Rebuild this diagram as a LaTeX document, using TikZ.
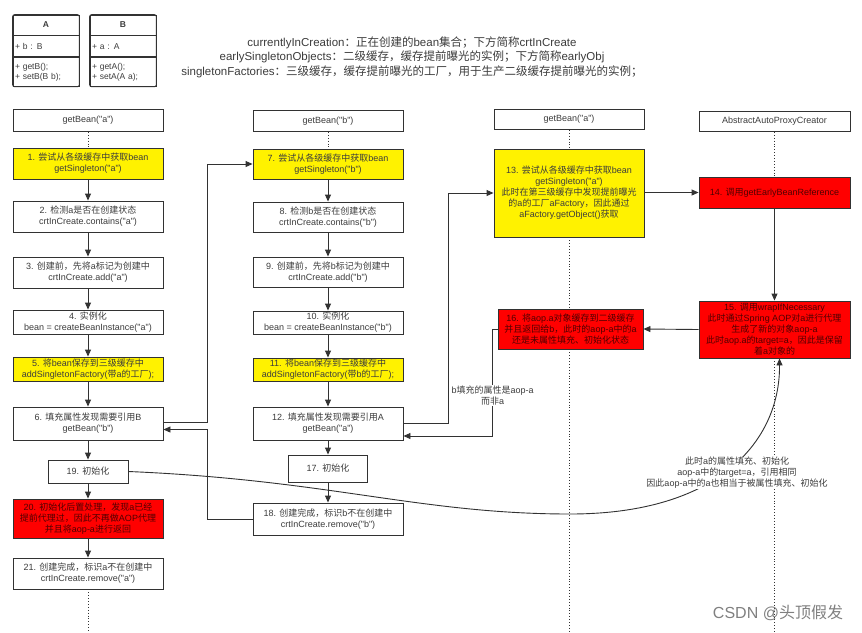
\documentclass[tikz,border=0pt]{standalone}
\usepackage{fontspec}
\newfontfamily\latinfont{Liberation Sans}
\newfontfamily\cjkfont{Noto Sans CJK SC}
\newcommand{\zh}[1]{{\cjkfont #1}}
\usetikzlibrary{arrows.meta}
\definecolor{txt}{RGB}{60,60,60}
\definecolor{rtxt}{RGB}{80,0,0}
\definecolor{edge}{RGB}{50,50,50}
\tikzset{
  box/.style={draw=edge, line width=0.9pt, fill=white, minimum width=150pt, align=center, inner sep=0.5pt,
    font=\fontsize{9}{11}\selectfont\latinfont, text=txt},
  ybox/.style={box, fill=yellow},
  rbox/.style={box, fill=red, text=rtxt},
  ml/.style={execute at begin node={\rule{0pt}{12.5pt}}},
  arr/.style={draw=edge, line width=0.9pt, -{Triangle[length=7pt,width=6pt]}},
  dots/.style={draw=edge, line width=0.9pt, dotted},
  uml/.style={draw=edge, line width=0.7pt, minimum width=66pt, inner sep=1pt, font=\fontsize{8.5}{10}\selectfont\latinfont, text=txt},
  lbl/.style={font=\fontsize{9}{11}\selectfont\latinfont, text=txt, align=center, inner sep=1pt},
}
\begin{document}
\begin{tikzpicture}[x=1pt,y=-1pt]
\useasboundingbox[fill=white] (0,0) rectangle (862,632);

% UML classes
\node[uml, minimum height=20pt, font=\fontsize{8.5}{10}\selectfont\latinfont\bfseries] (ua) at (46,25) {A};
\node[uml, minimum height=21pt, anchor=north, align=left, text width=62pt] (uaa) at (ua.south) {+ b : B};
\node[uml, minimum height=29pt, anchor=north, align=left, text width=62pt] (uam) at (uaa.south) {+ getB();\\+ setB(B b);};
\draw[edge, line width=0.9pt, rounded corners=2pt] (ua.north west) rectangle (uam.south east);
\node[uml, minimum height=20pt, font=\fontsize{8.5}{10}\selectfont\latinfont\bfseries] (ub) at (123,25) {B};
\node[uml, minimum height=21pt, anchor=north, align=left, text width=62pt] (uba) at (ub.south) {+ a : A};
\node[uml, minimum height=29pt, anchor=north, align=left, text width=62pt] (ubm) at (uba.south) {+ getA();\\+ setA(A a);};
\draw[edge, line width=0.9pt, rounded corners=2pt] (ub.north west) rectangle (ubm.south east);

% legend
\node[lbl, font=\fontsize{11.5}{14.5}\selectfont\latinfont] (legend) at (412,57)
 {currentlyInCreation\zh{：正在创建的}bean\zh{集合；下方简称}crtInCreate\\
  earlySingletonObjects\zh{：二级缓存，缓存提前曝光的实例；下方简称}earlyObj\\
  singletonFactories\zh{：三级缓存，缓存提前曝光的工厂，用于生产二级缓存提前曝光的实例；}};

% column 1
\node[box, minimum height=22pt] (ha) at (88,120.5) {getBean("a")};
\node[ybox, ml, minimum height=31pt] (n1) at (88,163.5) {1. \zh{尝试从各级缓存中获取}bean\\getSingleton("a")};
\node[box, ml, minimum height=31pt] (n2) at (88,216.5) {2. \zh{检测}a\zh{是否在创建状态}\\crtInCreate.contains("a")};
\node[box, ml, minimum height=31pt] (n3) at (88,272.5) {3. \zh{创建前，先将}a\zh{标记为创建中}\\crtInCreate.add("a")};
\node[box, ml, minimum height=24pt] (n4) at (88,322) {4. \zh{实例化}\\bean = createBeanInstance("a")};
\node[ybox, ml, minimum height=24pt] (n5) at (88,369) {5. \zh{将}bean\zh{保存到三级缓存中}\\addSingletonFactory(\zh{带}a\zh{的工厂});};
\node[box, ml, minimum height=33pt] (n6) at (88,423.5) {6. \zh{填充属性发现需要引用}B\\getBean("b")};
\node[box, minimum height=23pt, minimum width=80pt] (n19) at (88,471.5) {19. \zh{初始化}};
\node[rbox, ml, minimum height=39pt] (n20) at (88,518.5) {20. \zh{初始化后置处理，发现}a\zh{已经}\\\zh{提前代理过，因此不再做}AOP\zh{代理}\\\zh{并且将}aop-a\zh{进行返回}};
\node[box, ml, minimum height=31pt] (n21) at (88,573.5) {21. \zh{创建完成，标识}a\zh{不在创建中}\\crtInCreate.remove("a")};
\coordinate (e1) at (88,632);

% column 2
\node[box, minimum height=21pt] (hb) at (328,121) {getBean("b")};
\node[ybox, ml, minimum height=30pt] (n7) at (328,164) {7. \zh{尝试从各级缓存中获取}bean\\getSingleton("b")};
\node[box, ml, minimum height=30pt] (n8) at (328,217) {8. \zh{检测}b\zh{是否在创建状态}\\crtInCreate.contains("b")};
\node[box, ml, minimum height=30pt] (n9) at (328,272) {9. \zh{创建前，先将}b\zh{标记为创建中}\\crtInCreate.add("b")};
\node[box, ml, minimum height=23pt] (n10) at (328,322.5) {10. \zh{实例化}\\bean = createBeanInstance("b")};
\node[ybox, ml, minimum height=23pt] (n11) at (328,369.5) {11. \zh{将}bean\zh{保存到三级缓存中}\\addSingletonFactory(\zh{带}b\zh{的工厂});};
\node[box, ml, minimum height=33pt] (n12) at (328,423.5) {12. \zh{填充属性发现需要引用}A\\getBean("a")};
\node[box, minimum height=27pt, minimum width=79pt] (n17) at (328,468.5) {17. \zh{初始化}};
\node[box, ml, minimum height=32pt] (n18) at (328,519) {18. \zh{创建完成，标识}b\zh{不在创建中}\\crtInCreate.remove("b")};

% column 3
\node[box, minimum height=20pt] (hc) at (569,119.5) {getBean("a")};
\node[ybox, ml, minimum height=88pt] (n13) at (569,193) {13. \zh{尝试从各级缓存中获取}bean\\getSingleton("a")\\\zh{此时在第三级缓存中发现提前曝光}\\\zh{的}a\zh{的工厂}aFactory\zh{，因此通过}\\aFactory.getObject()\zh{获取}};
\node[rbox, ml, minimum height=40pt, minimum width=145pt] (n16) at (570.5,329) {16. \zh{将}aop.a\zh{对象缓存到二级缓存}\\\zh{并且返回给}b\zh{，此时的}aop-a\zh{中的}a\\\zh{还是未属性填充、初始化状态}};
\coordinate (e3) at (569,632);

% column 4
\node[box, minimum height=20pt, minimum width=151pt] (hd) at (774.5,121.5) {AbstractAutoProxyCreator};
\node[rbox, minimum height=31pt, minimum width=151pt] (n14) at (774.5,192.5) {14. \zh{调用}getEarlyBeanReference};
\node[rbox, ml, minimum height=57pt, minimum width=151pt, inner ysep=0pt] (n15) at (774.5,329.5) {15. \zh{调用}wrapIfNecessary\\\zh{此时通过}Spring AOP\zh{对}a\zh{进行代理}\\\zh{生成了新的对象}aop-a\\\zh{此时}aop.a\zh{的}target=a\zh{，因此是保留}\\\zh{着}a\zh{对象的}};
\coordinate (e4) at (774.5,632);

% dotted lifelines
\draw[dots] (ha) -- (n1);
\draw[dots] (hb) -- (n7);
\draw[dots] (hc) -- (n13);
\draw[dots] (hd) -- (n14);
\draw[dots] (n21) -- (e1);
\draw[dots] (n13.south) -- (n16.north -| n13.south);
\draw[dots] (n16.south -| n13.south) -- (e3);
\draw[dots] (n15) -- (e4);

% column arrows
\draw[arr] (n1) -- (n2);
\draw[arr] (n2) -- (n3);
\draw[arr] (n3) -- (n4);
\draw[arr] (n4) -- (n5);
\draw[arr] (n5) -- (n6);
\draw[arr] (n6) -- (n19);
\draw[arr] (n19) -- (n20);
\draw[arr] (n20) -- (n21);
\draw[arr] (n7) -- (n8);
\draw[arr] (n8) -- (n9);
\draw[arr] (n9) -- (n10);
\draw[arr] (n10) -- (n11);
\draw[arr] (n11) -- (n12);
\draw[arr] (n12) -- (n17);
\draw[arr] (n17) -- (n18);
\draw[arr] (n14) -- (n15);

% cross-column arrows
\draw[arr] ([yshift=1.5pt]n6.east) -| ([xshift=-45pt]n7.west) -- (n7.west);
\draw[arr] (n18.west) -- ++(-45pt,0) |- ([yshift=-6pt]n6.east);
\draw[arr] ([yshift=0.5pt]n12.east) -| ([xshift=-45pt]n13.west) -- (n13.west);
\draw[arr] (n13.east |- n14.west) -- (n14.west);
\draw[arr] (n15.west) -- (n16.east);
\draw[arr] (n16.west) -- ++(-5pt,0) |- node[pos=0.31, lbl, fill=white] {b\zh{填充的属性是}aop-a\\\zh{而非}a} ([yshift=-12.5pt]n12.east);

% curve from 19 to 15
\draw[arr] (n19.east) .. controls (330,480) and (420,514) .. (570,514)
  .. controls (720,514) and (780,440) .. ([xshift=5pt]n15.south);
\node[lbl, fill=white, inner sep=0.5pt] (note) at (737,473) {\zh{此时}a\zh{的属性填充、初始化}\\aop-a\zh{中的}target=a\zh{，引用相同}\\\zh{因此}aop-a\zh{中的}a\zh{也相当于被属性填充、初始化}};

% watermark
\node[font=\fontsize{16}{18}\selectfont\latinfont, text=black!50, inner sep=0pt] (wm) at (778,613) {CSDN @\zh{头顶假发}};
\end{tikzpicture}
\end{document}
